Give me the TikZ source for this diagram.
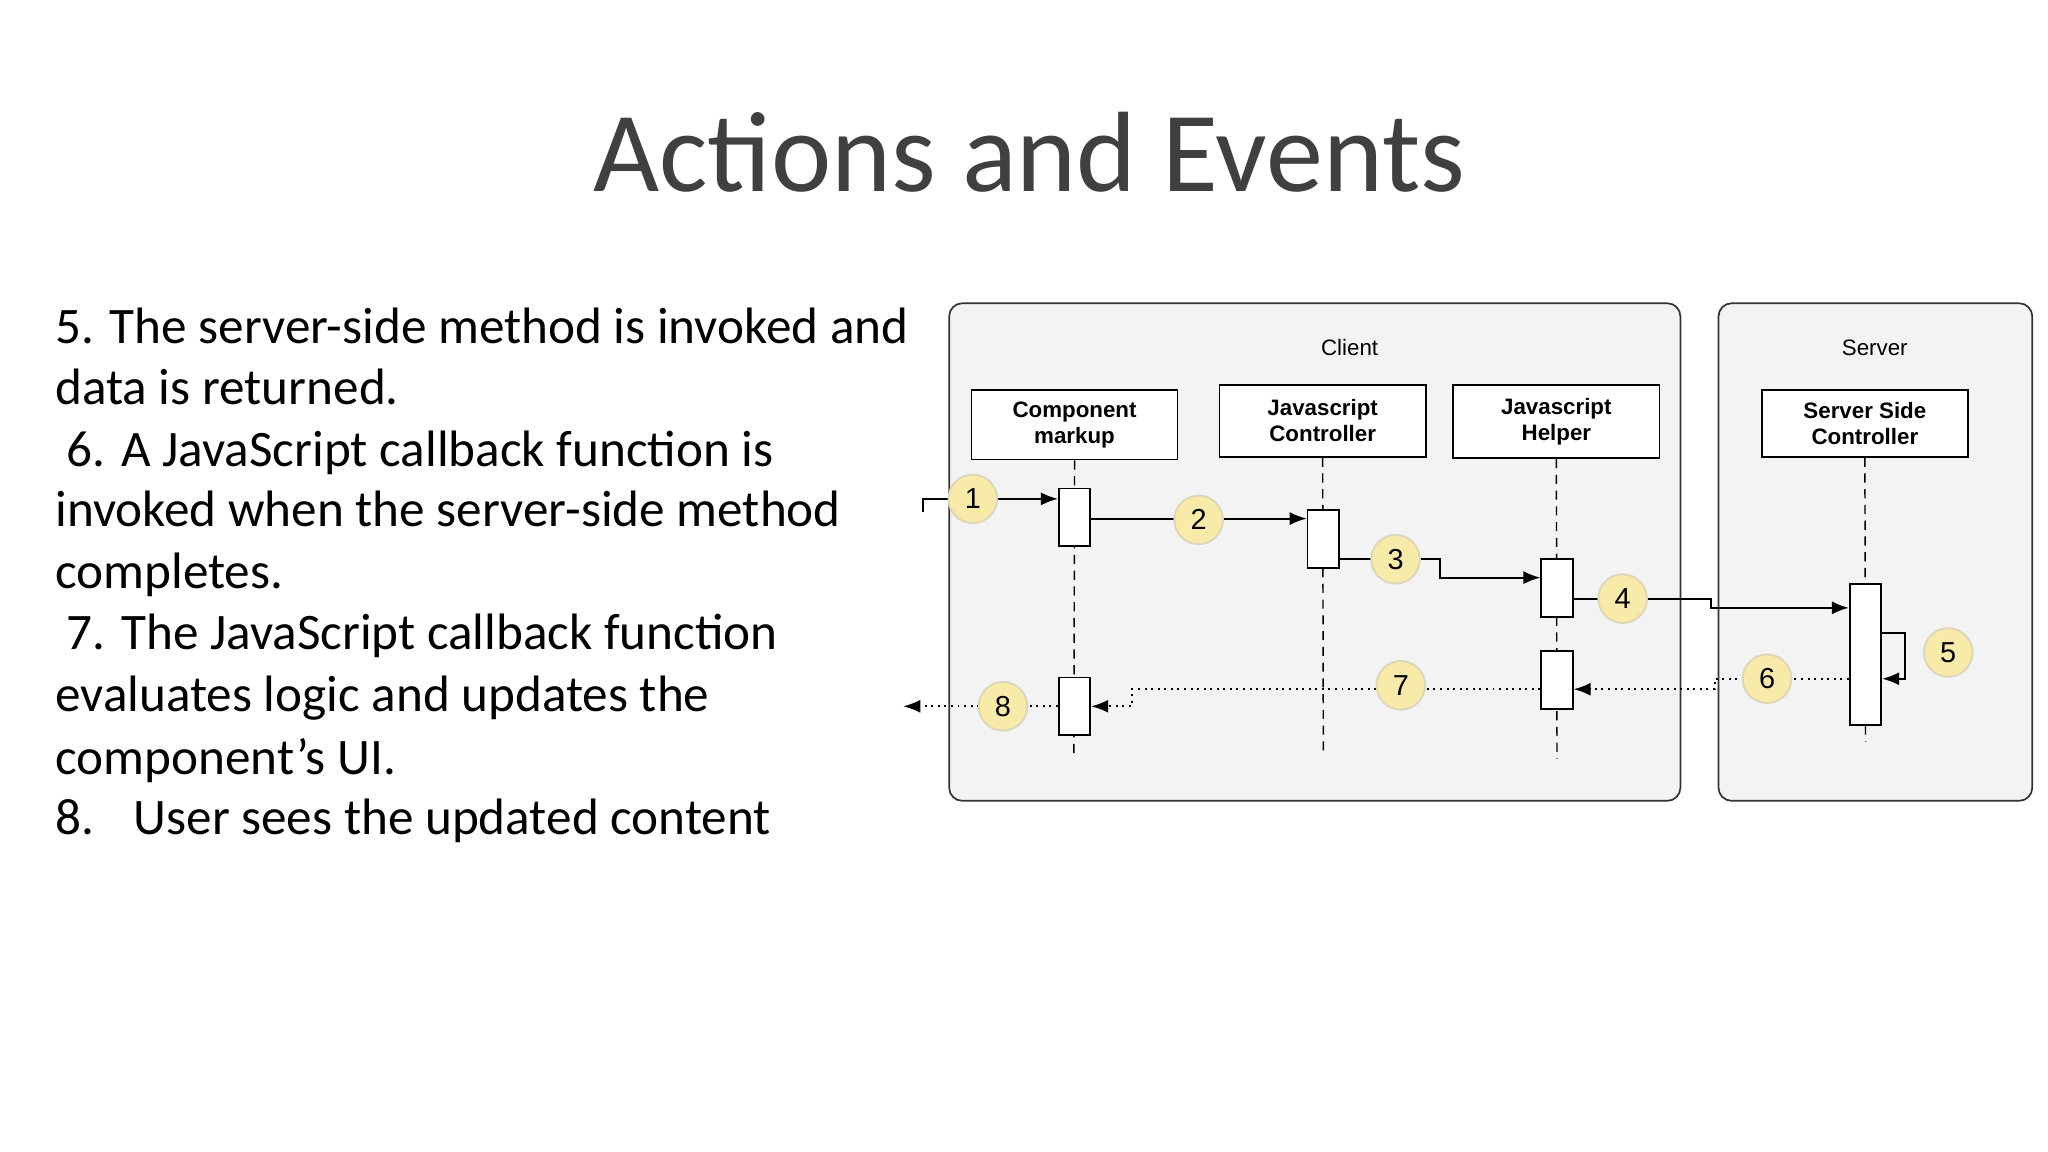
\documentclass[tikz,border=0pt]{standalone}
\usepackage{fontspec}
\setmainfont{Carlito}
\newfontfamily\diag{Liberation Sans}
\usetikzlibrary{arrows.meta}
\definecolor{panel}{HTML}{F3F3F3}
\definecolor{badge}{HTML}{F8EBAA}
\definecolor{badgeedge}{HTML}{DDD6B8}
\definecolor{titlec}{HTML}{404040}
\tikzset{
  body/.style={anchor=base west,inner sep=0pt,font=\fontsize{39}{42}\selectfont},
  panelbox/.style={draw=black!80,line width=1.3pt,fill=panel,rounded corners=10pt},
  actor/.style={draw,line width=1.3pt,fill=white,minimum width=157pt,inner sep=0pt,align=center,font=\diag\bfseries\fontsize{17}{20}\selectfont},
  act/.style={draw,line width=1.3pt,fill=white,minimum width=24pt,inner sep=0pt},
  life/.style={dash pattern=on 7pt off 5pt,line width=1.1pt},
  badgec/.style={circle,fill=badge,draw=badgeedge,line width=1.5pt,minimum size=37pt,inner sep=0pt,font=\diag\fontsize{22}{22}\selectfont},
  call/.style={line width=1.5pt,-{Latex[length=13pt,width=10pt]}},
  ret/.style={line width=1.5pt,dash pattern=on 1.5pt off 3.5pt,-{Latex[length=13pt,width=10pt]}},
}
\begin{document}
\begin{tikzpicture}[x=1pt,y=-1pt]
\useasboundingbox (0,0) rectangle (1560,877.5);
\node[anchor=base,inner sep=0pt,text=titlec,font=\fontsize{87}{90}\selectfont] (title) at (784,146) {Actions and Events};
\node[body] (l1) at (42,262) {5. The server-side method is invoked and};
\node[body] (l2) at (42,308) {data is returned.};
\node[body] (l3) at (42,355) {\ 6. A JavaScript callback function is};
\node[body] (l4) at (42,401) {invoked when the server-side method};
\node[body] (l5) at (42,448) {completes.};
\node[body] (l6) at (42,495) {\ 7. The JavaScript callback function};
\node[body] (l7) at (42,542) {evaluates logic and updates the};
\node[body] (l8) at (42,590) {component’s UI.};
\node[body] (l9) at (42,636) {8.\hspace{30pt}User sees the updated content};

\draw[panelbox] (723,231) rectangle (1280,610);
\draw[panelbox] (1309,231) rectangle (1548,610);
\node[font=\diag\fontsize{17}{17}\selectfont] (client) at (1028,265) {Client};
\node[font=\diag\fontsize{17}{17}\selectfont] (server) at (1428,265) {Server};

\node[actor,minimum height=53pt] (cm) at (818.5,323.5) {Component\\markup};
\node[actor,minimum height=55pt] (jc) at (1007.5,320.5) {Javascript\\Controller};
\node[actor,minimum height=56pt] (jh) at (1185.5,321) {Javascript\\Helper};
\node[actor,minimum height=51pt] (sc) at (1420.5,322.5) {Server Side\\Controller};

\coordinate (cmend) at (818,575);
\coordinate (jcend) at (1008,575);
\coordinate (jhend) at (1186,578);
\coordinate (scend) at (1421,565);
\draw[life] (cm.south) -- (cmend);
\draw[life] (jc.south) -- (jcend);
\draw[life] (jh.south) -- (jhend);
\draw[life] (sc.south) -- (scend);

\node[act,minimum height=44pt] (a1) at (818.5,394) {};
\node[act,minimum height=44pt] (a2) at (1008,410.5) {};
\node[act,minimum height=44pt] (a3) at (1186,448) {};
\node[act,minimum height=107pt] (a4) at (1421,498.5) {};
\node[act,minimum height=44pt] (a5) at (1186,518) {};
\node[act,minimum height=44pt] (a6) at (818.5,538) {};

\coordinate (start) at (703,390);
\coordinate (out) at (688,538);
\draw[call] (start) -- (703,380) -- (a1.west |- 0,380);
\draw[call] (a1.east |- 0,395) -- (a2.west |- 0,395);
\draw[call] (a2.east |- 0,426) -- (1097,426) -- (1097,440) -- (a3.west |- 0,440);
\draw[call] (a3.east |- 0,456) -- (1303,456) -- (1303,463) -- (a4.west |- 0,463);
\draw[call] (a4.east |- 0,482) -- (1451,482) -- (1451,517) -- (a4.east |- 0,517);
\draw[ret] (a4.west |- 0,517) -- (1306,517) -- (1306,525) -- (a5.east |- 0,525);
\draw[ret] (a5.west |- 0,525) -- (862,525) -- (862,538) -- (a6.east |- 0,538);
\draw[ret] (a6.west |- 0,538) -- (out);

\node[badgec] (b1) at (741,380) {1};
\node[badgec] (b2) at (913,396) {2};
\node[badgec] (b3) at (1063,426) {3};
\node[badgec] (b4) at (1236,456) {4};
\node[badgec] (b5) at (1484,497) {5};
\node[badgec] (b6) at (1346,517) {6};
\node[badgec] (b7) at (1067,522) {7};
\node[badgec] (b8) at (764,538) {8};
\end{tikzpicture}
\end{document}
